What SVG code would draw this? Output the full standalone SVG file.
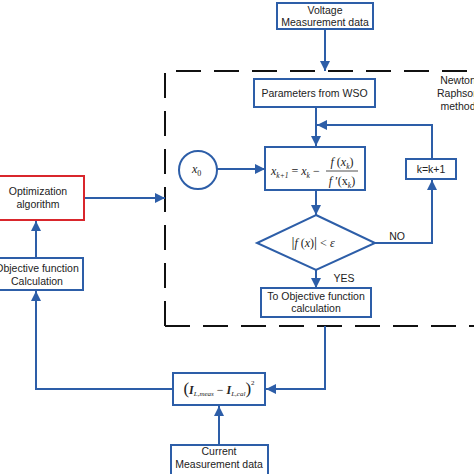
<svg xmlns="http://www.w3.org/2000/svg" width="474" height="474" viewBox="0 0 474 474">
<defs>
<marker id="ah" viewBox="0 0 10 10" refX="10" refY="5" markerWidth="10" markerHeight="10" markerUnits="userSpaceOnUse" orient="auto">
<path d="M0,0 L10,5 L0,10 Z" fill="#2d5ea8"/>
</marker>
<style>
.box{fill:#fff;stroke:#2d5ea8;stroke-width:2}
.red{fill:#fff;stroke:#d9262c;stroke-width:2}
.lbl{font-family:"Liberation Sans",Arial,sans-serif;font-size:10.5px;fill:#222;text-anchor:middle}
.m{font-family:"Liberation Serif","Times New Roman",serif;font-style:italic;fill:#222}
.c{fill:none;stroke:#2d5ea8;stroke-width:2;marker-end:url(#ah)}
.cn{fill:none;stroke:#2d5ea8;stroke-width:2}
</style>
</defs>
<rect width="474" height="474" fill="#fff"/>
<g id="newton-region">
<path d="M165,326 L165,71 L480,71 M165,326 L480,326" fill="none" stroke="#111" stroke-width="2" stroke-dasharray="25,13"/>
<text class="lbl" x="458" y="84">Newton</text>
<text class="lbl" x="458" y="97">Raphson</text>
<text class="lbl" x="458" y="110">method</text>
</g>
<g id="connectors">
<path class="c" d="M325,29 L325,71"/>
<path class="c" d="M316,107 L316,146"/>
<path class="c" d="M432,159 L432,125 L317,125"/>
<path class="c" d="M217,169 L265,169"/>
<path class="c" d="M316,190 L316,215"/>
<path class="c" d="M375,243 L432,243 L432,180"/>
<path class="c" d="M316,270 L316,288"/>
<path class="c" d="M325,326 L325,389 L266,389"/>
<path class="c" d="M173,389 L36,389 L36,291"/>
<path class="c" d="M36,258 L36,221"/>
<path class="c" d="M84,198 L165,198"/>
<path class="c" d="M219,445 L219,406"/>
<text class="lbl" x="397" y="240">NO</text>
<text class="lbl" x="344" y="282">YES</text>
</g>
<g id="voltage">
<rect class="box" x="277" y="3" width="96" height="26"/>
<text class="lbl" x="325" y="14">Voltage</text>
<text class="lbl" x="325" y="26">Measurement data</text>
</g>
<g id="parameters">
<rect class="box" x="254" y="79" width="121" height="28"/>
<text class="lbl" x="314.5" y="97">Parameters from WSO</text>
</g>
<g id="x0">
<circle cx="198" cy="170" r="19" fill="#fff" stroke="#2d5ea8" stroke-width="2"/>
<text class="m" x="192" y="173" font-size="12">x<tspan font-size="8" dy="3" font-style="normal">0</tspan></text>
</g>
<g id="iteration">
<rect class="box" x="265" y="147" width="100" height="43"/>
<text class="m" x="271" y="175" font-size="12">x<tspan font-size="7.5" dy="3">k+1</tspan><tspan dy="-3" font-style="normal"> = </tspan>x<tspan font-size="7.5" dy="3">k</tspan><tspan dy="-3" font-style="normal"> − </tspan></text>
<line x1="326" y1="171" x2="358" y2="171" stroke="#222" stroke-width="0.8"/>
<text class="m" x="342" y="166" font-size="12" text-anchor="middle">f<tspan font-style="normal"> (</tspan>x<tspan font-size="7.5" dy="3">k</tspan><tspan dy="-3" font-style="normal">)</tspan></text>
<text class="m" x="342" y="185" font-size="12" text-anchor="middle">f<tspan font-style="normal"> ′(x</tspan><tspan font-size="7.5" dy="3">k</tspan><tspan dy="-3" font-style="normal">)</tspan></text>
</g>
<g id="kplus">
<rect class="box" x="406" y="159" width="50" height="20"/>
<text class="lbl" x="431" y="173">k=k+1</text>
</g>
<g id="check">
<path class="box" d="M316,215 L375,243 L316,270 L257,243 Z"/>
<text class="m" x="313" y="247" font-size="12" text-anchor="middle"><tspan font-style="normal" font-size="15">|</tspan>f<tspan font-style="normal"> (</tspan>x<tspan font-style="normal">)</tspan><tspan font-style="normal" font-size="15">|</tspan><tspan font-style="normal"> &lt; </tspan>ε</text>
</g>
<g id="to-objective">
<rect class="box" x="261" y="288" width="110" height="29"/>
<text class="lbl" x="316" y="300">To Objective function</text>
<text class="lbl" x="316" y="312">calculation</text>
</g>
<g id="optimization">
<rect class="red" x="-6" y="176" width="90" height="44"/>
<text class="lbl" x="38" y="195">Optimization</text>
<text class="lbl" x="38" y="208">algorithm</text>
</g>
<g id="objective">
<rect class="box" x="-6" y="258" width="89" height="32"/>
<text class="lbl" x="37" y="272">Objective function</text>
<text class="lbl" x="37" y="285">Calculation</text>
</g>
<g id="error">
<rect class="box" x="173" y="373" width="92" height="32"/>
<text class="m" x="219" y="394" font-size="12" text-anchor="middle"><tspan font-style="normal" font-size="17">(</tspan><tspan font-weight="bold">I</tspan><tspan font-size="7" dy="2">L,meas</tspan><tspan dy="-2" font-style="normal"> − </tspan><tspan font-weight="bold">I</tspan><tspan font-size="7" dy="2">L,cal</tspan><tspan dy="-2" font-style="normal" font-size="17">)</tspan><tspan font-size="7" dy="-9" font-style="normal">2</tspan></text>
</g>
<g id="current">
<rect class="box" x="171" y="445" width="97" height="34"/>
<text class="lbl" x="219" y="455">Current</text>
<text class="lbl" x="219" y="468">Measurement data</text>
</g>
</svg>
